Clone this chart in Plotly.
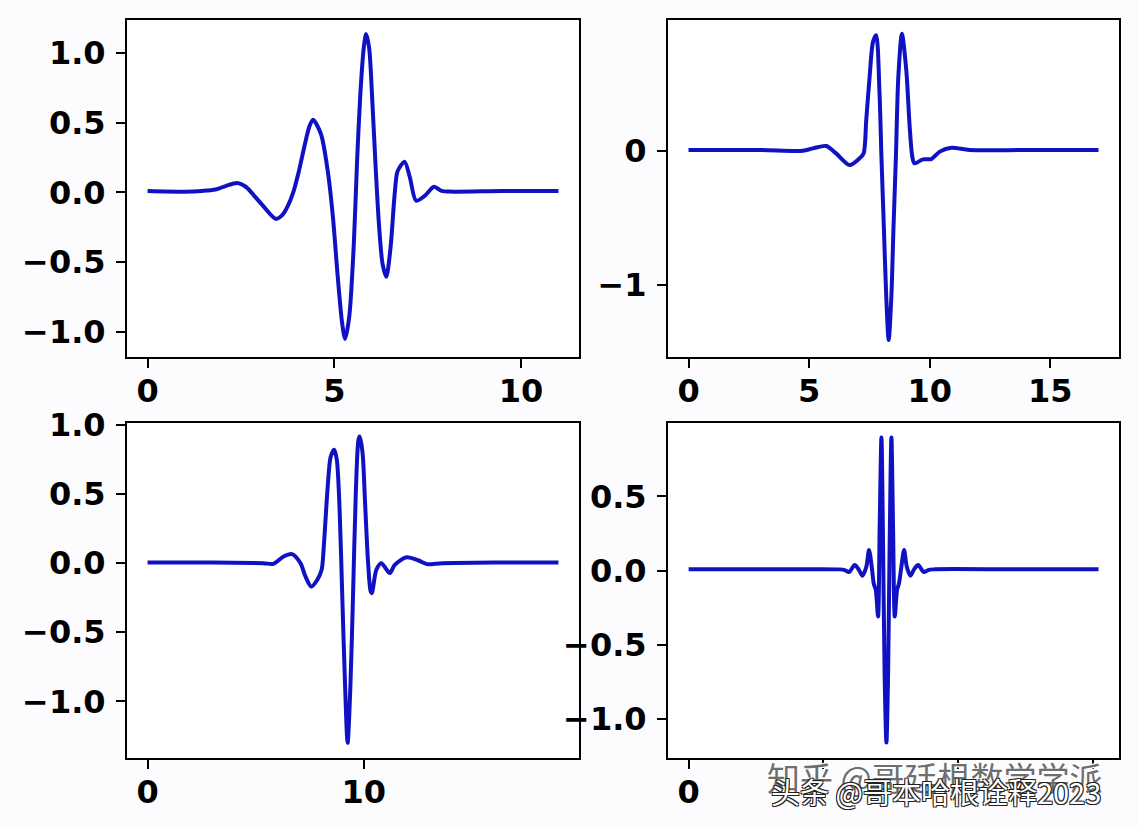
import plotly.graph_objects as go

# ---- data ----
tl_x = [0, 1.0, 1.46, 1.82, 2.09, 2.4, 2.63, 2.8, 3.07, 3.43, 3.6, 3.75, 3.9, 4.05, 4.2, 4.33, 4.43,
        4.64, 4.82, 4.96, 5.09, 5.21, 5.29, 5.4, 5.52, 5.61, 5.7, 5.79, 5.85, 5.93, 6.02, 6.11, 6.2, 6.29, 6.39,
        6.5, 6.61, 6.68, 6.75, 6.88, 7.02, 7.19, 7.42, 7.67, 7.87, 8.18, 9.5, 11]
tl_y = [0.01, 0.005, 0.01, 0.02, 0.045, 0.067, 0.04, -0.007, -0.09, -0.19, -0.165, -0.10, 0.0, 0.15, 0.33, 0.47, 0.52,
        0.42, 0.16, -0.17, -0.6, -0.94, -1.05, -0.89, -0.38, 0.23, 0.72, 1.04, 1.135, 1.04, 0.64, 0.16, -0.25, -0.51, -0.605,
        -0.41, -0.03, 0.14, 0.18, 0.22, 0.11, -0.06, -0.025, 0.04, 0.01, 0.005, 0.01, 0.01]

tr_x = [0, 3.0, 4.74, 5.16, 5.71, 6.12, 6.68, 7.09, 7.26, 7.37, 7.51, 7.65, 7.78, 7.92, 8.0, 8.1,
        8.2, 8.3, 8.41, 8.5, 8.6, 8.7, 8.85, 9.03, 9.17, 9.28, 9.37, 9.72, 10.07, 10.42, 10.9, 11.65, 14, 17]
tr_y = [0.005, 0.005, 0.0, 0.017, 0.035, -0.02, -0.107, -0.057, -0.02, 0.23, 0.55, 0.81, 0.86, 0.43, -0.045, -0.57,
        -1.09, -1.41, -1.09, -0.57, -0.045, 0.55, 0.87, 0.6, 0.18, -0.045, -0.094, -0.065, -0.062, -0.007, 0.022, 0.005, 0.005, 0.005]

bl_x = [0, 3.0, 5.35, 5.82, 6.29, 6.68, 7.07, 7.3, 7.57, 7.85, 8.05, 8.16, 8.32, 8.47, 8.63, 8.75,
        8.88, 9.0, 9.13, 9.25, 9.38, 9.5, 9.63, 9.75, 9.81, 9.94, 10.06, 10.19, 10.31, 10.37, 10.58,
        10.81, 11.2, 11.43, 11.98, 12.53, 12.92, 13.62, 16, 19]
bl_y = [0.005, 0.005, 0.0, -0.005, 0.048, 0.065, 0.0, -0.096, -0.17, -0.12, -0.048, 0.145, 0.53, 0.77, 0.82, 0.75,
        0.39, -0.22, -0.87, -1.30, -0.89, -0.24, 0.51, 0.89, 0.916, 0.8, 0.43, 0.024, -0.2, -0.217, -0.048,
        0.0, -0.072, -0.012, 0.043, 0.019, -0.007, 0.0, 0.005, 0.005]

br_x = [0, 6.0, 11.2, 11.58, 11.9, 12.32, 12.61, 12.89, 13.18, 13.38, 13.58, 13.73, 13.88, 14.05,
        14.17, 14.3, 14.42, 14.54, 14.67, 14.79, 14.91, 15.04, 15.16, 15.29, 15.46, 15.6, 15.78,
        15.98, 16.18, 16.45, 16.72, 17.02, 17.44, 17.76, 18.13, 24, 30.4]
br_y = [0.008, 0.008, 0.008, 0.003, -0.01, 0.037, 0.008, -0.035, 0.026, 0.138, 0.026, -0.087, -0.13, -0.31,
        0.30, 0.898, 0.18, -0.72, -1.16, -0.72, 0.18, 0.898, 0.30, -0.31, -0.13, -0.087, 0.026,
        0.138, 0.026, -0.035, 0.008, 0.037, -0.01, 0.003, 0.008, 0.008, 0.008]

tl_yticks = [1.0, 0.5, 0.0, -0.5, -1.0]
tr_yticks = [0, -1]
bl_yticks = [1.0, 0.5, 0.0, -0.5, -1.0]
br_yticks = [0.5, 0.0, -0.5, -1.0]
tl_xticks = [0, 5, 10]
tr_xticks = [0, 5, 10, 15]
bl_xticks = [0, 10]
br_xticks = [0, 10, 20, 30]
br_xticklabels = ["0", "", "", ""]

LINE = "#1111c4"
W, H = 1138, 828


def dom_x(a, b):
    return [a / W, b / W]


def dom_y(top, bottom):
    return [1 - bottom / H, 1 - top / H]


tickfont = dict(family="DejaVu Sans", size=32, color="black", weight="bold")

fig = go.Figure()
panels = [
    ("x", "y", tl_x, tl_y),
    ("x2", "y2", tr_x, tr_y),
    ("x3", "y3", bl_x, bl_y),
    ("x4", "y4", br_x, br_y),
]
for xa, ya, xs, ys in panels:
    fig.add_trace(go.Scatter(x=xs, y=ys, mode="lines", xaxis=xa, yaxis=ya,
                             line=dict(color=LINE, width=4, shape="spline", smoothing=0.8),
                             showlegend=False, hoverinfo="skip"))


def ax(domain, rng, tickvals, anchor, ticktext=None, fmt=None, standoff=4):
    d = dict(domain=domain, range=rng, tickvals=tickvals, anchor=anchor, automargin=False,
             showgrid=False, zeroline=False, showline=True, linecolor="black", linewidth=2,
             mirror=True, ticks="outside", ticklen=9, tickwidth=1.8, tickcolor="black",
             tickfont=tickfont, ticklabelstandoff=standoff)
    if ticktext is not None:
        d["ticktext"] = ticktext
    if fmt is not None:
        d["tickformat"] = fmt
    return d


XS = -4
fig.update_layout(
    template="none",
    width=W, height=H, margin=dict(l=0, r=0, t=0, b=0, pad=0, autoexpand=False),
    paper_bgcolor="#fcfcfe", plot_bgcolor="#ffffff",
    xaxis=ax(dom_x(127, 579), [-0.55, 11.55], tl_xticks, "y", fmt="d", standoff=XS),
    yaxis=ax(dom_y(20, 357), [-1.18, 1.235], tl_yticks, "x", fmt=".1f"),
    xaxis2=ax(dom_x(668, 1119), [-0.85, 17.85], tr_xticks, "y2", fmt="d", standoff=XS),
    yaxis2=ax(dom_y(20, 357), [-1.536, 0.973], tr_yticks, "x2", fmt="d"),
    xaxis3=ax(dom_x(127, 579), [-0.95, 19.95], bl_xticks, "y3", fmt="d", standoff=XS),
    yaxis3=ax(dom_y(423, 758), [-1.41, 1.014], bl_yticks, "x3", fmt=".1f"),
    xaxis4=ax(dom_x(668, 1119), [-1.53, 31.92], br_xticks, "y4", ticktext=br_xticklabels, standoff=XS),
    yaxis4=ax(dom_y(423, 758), [-1.264, 0.995], br_yticks, "x4", fmt=".1f"),
)

# watermark overlays
fig.add_annotation(xref="paper", yref="paper", x=765 / W, y=1 - 777 / H, xanchor="left", yanchor="middle",
                   text="知乎 @哥廷根数学学派", showarrow=False,
                   font=dict(family="Noto Sans CJK SC", size=33, color="#6e6e6e",
                             shadow="-1px -1px 0 #fff, 1px -1px 0 #fff, -1px 1px 0 #fff, 1px 1px 0 #fff"))
fig.add_annotation(xref="paper", yref="paper", x=769 / W, y=1 - 791 / H, xanchor="left", yanchor="middle",
                   text="头条 @哥本哈根诠释2023", showarrow=False,
                   font=dict(family="Noto Sans CJK SC", size=29, color="#ffffff",
                             shadow="-1px -1px 0 #222, 1px -1px 0 #222, -1px 1px 0 #222, 1px 1px 0 #222"))

fig.write_html("out.html", config={"displayModeBar": False},
               post_script="document.body.style.margin='0';document.body.style.overflow='hidden';")
